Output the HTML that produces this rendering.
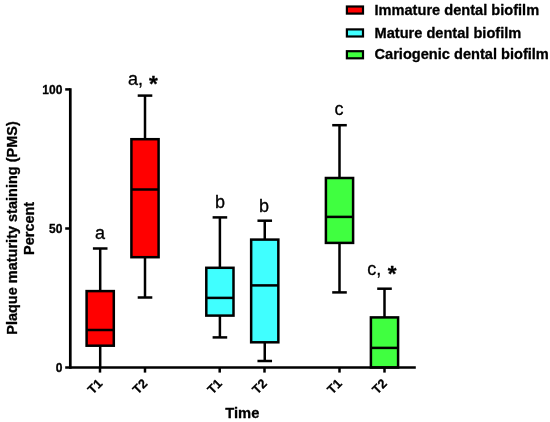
<!DOCTYPE html>
<html><head><meta charset="utf-8"><title>Plaque maturity staining</title>
<style>
html,body{margin:0;padding:0;background:#fff;}
svg{display:block;}
text{font-family:"Liberation Sans",Arial,sans-serif;fill:#000;stroke:#000;stroke-width:0.3px;stroke-linejoin:round;}
.b12{font-weight:bold;font-size:12px;}
.xt{font-weight:bold;font-size:12.6px;}
.b15{font-weight:bold;font-size:14.7px;}
.lg{font-weight:bold;font-size:14.6px;}
.yl{font-weight:bold;font-size:14.5px;}
.an{font-size:18px;}
.st{font-size:22.5px;font-weight:bold;}
.ln line,.ln rect{stroke:#000;stroke-width:2.5;}
</style></head><body>
<svg width="550" height="422" viewBox="0 0 550 422">
<rect width="550" height="422" fill="#fff"/>
<g class="ln" fill="none">
<line x1="100.2" y1="248.5" x2="100.2" y2="291.1"/>
<line x1="92.9" y1="248.5" x2="107.5" y2="248.5"/>
<line x1="100.2" y1="345.7" x2="100.2" y2="367.5"/>
<rect x="86.60000000000001" y="291.1" width="27.2" height="54.599999999999966" fill="#ff0000"/>
<line x1="86.60000000000001" y1="330" x2="113.8" y2="330"/>
<line x1="145" y1="95.6" x2="145" y2="139.2"/>
<line x1="137.7" y1="95.6" x2="152.3" y2="95.6"/>
<line x1="145" y1="257.2" x2="145" y2="297.5"/>
<line x1="137.7" y1="297.5" x2="152.3" y2="297.5"/>
<rect x="131.4" y="139.2" width="27.2" height="118.0" fill="#ff0000"/>
<line x1="131.4" y1="189.5" x2="158.6" y2="189.5"/>
<line x1="219.9" y1="217.4" x2="219.9" y2="267.8"/>
<line x1="212.6" y1="217.4" x2="227.20000000000002" y2="217.4"/>
<line x1="219.9" y1="315.6" x2="219.9" y2="337.4"/>
<line x1="212.6" y1="337.4" x2="227.20000000000002" y2="337.4"/>
<rect x="206.3" y="267.8" width="27.2" height="47.80000000000001" fill="#40ffff"/>
<line x1="206.3" y1="297.9" x2="233.5" y2="297.9"/>
<line x1="264.75" y1="220.7" x2="264.75" y2="239.6"/>
<line x1="257.45" y1="220.7" x2="272.05" y2="220.7"/>
<line x1="264.75" y1="342.3" x2="264.75" y2="361"/>
<line x1="257.45" y1="361" x2="272.05" y2="361"/>
<rect x="251.15" y="239.6" width="27.2" height="102.70000000000002" fill="#40ffff"/>
<line x1="251.15" y1="285.4" x2="278.35" y2="285.4"/>
<line x1="339.5" y1="125.2" x2="339.5" y2="178"/>
<line x1="332.2" y1="125.2" x2="346.8" y2="125.2"/>
<line x1="339.5" y1="242.9" x2="339.5" y2="292.4"/>
<line x1="332.2" y1="292.4" x2="346.8" y2="292.4"/>
<rect x="325.9" y="178" width="27.2" height="64.9" fill="#40ff40"/>
<line x1="325.9" y1="216.9" x2="353.1" y2="216.9"/>
<line x1="384.5" y1="288.7" x2="384.5" y2="317.4"/>
<line x1="377.2" y1="288.7" x2="391.8" y2="288.7"/>
<rect x="370.9" y="317.4" width="27.2" height="50.10000000000002" fill="#40ff40"/>
<line x1="370.9" y1="347.9" x2="398.1" y2="347.9"/>
<line x1="70.3" y1="88.2" x2="70.3" y2="368.8" style="stroke-width:2.7"/>
<line x1="65.2" y1="367.5" x2="415.8" y2="367.5" style="stroke-width:2.7"/>
<line x1="65.2" y1="89.4" x2="70.3" y2="89.4"/>
<line x1="65.2" y1="228.5" x2="70.3" y2="228.5"/>
<line x1="100" y1="367.5" x2="100" y2="372.6"/>
<line x1="145" y1="367.5" x2="145" y2="372.6"/>
<line x1="219.7" y1="367.5" x2="219.7" y2="372.6"/>
<line x1="264.5" y1="367.5" x2="264.5" y2="372.6"/>
<line x1="339.5" y1="367.5" x2="339.5" y2="372.6"/>
<line x1="384.5" y1="367.5" x2="384.5" y2="372.6"/>
</g>
<text class="b12" text-anchor="end" x="62.4" y="93.8">100</text>
<text class="b12" text-anchor="end" x="62.4" y="232.8">50</text>
<text class="b12" text-anchor="end" x="62.4" y="371.8">0</text>
<text class="xt" text-anchor="end" transform="translate(103.1,384.3) rotate(-45)">T1</text>
<text class="xt" text-anchor="end" transform="translate(148.1,384.3) rotate(-45)">T2</text>
<text class="xt" text-anchor="end" transform="translate(222.79999999999998,384.3) rotate(-45)">T1</text>
<text class="xt" text-anchor="end" transform="translate(267.6,384.3) rotate(-45)">T2</text>
<text class="xt" text-anchor="end" transform="translate(342.6,384.3) rotate(-45)">T1</text>
<text class="xt" text-anchor="end" transform="translate(387.6,384.3) rotate(-45)">T2</text>
<text class="an" text-anchor="middle" x="100.1" y="239.2">a</text>
<text class="an" x="128" y="84.6">a,</text>
<text class="st" x="148.9" y="91.2">*</text>
<text class="an" text-anchor="middle" x="220" y="208.3">b</text>
<text class="an" text-anchor="middle" x="263.9" y="211.5">b</text>
<text class="an" text-anchor="middle" x="339" y="114.6">c</text>
<text class="an" x="367.3" y="274.8">c,</text>
<text class="st" x="387.7" y="281.4">*</text>
<text class="b15" text-anchor="middle" x="242.3" y="418.3">Time</text>
<text class="yl" text-anchor="middle" transform="translate(17.3,228) rotate(-90)">Plaque maturity staining (PMS)</text>
<text class="yl" text-anchor="middle" transform="translate(33.8,228.4) rotate(-90)">Percent</text>
<g class="ln">
<rect x="346.9" y="6.5" width="16.1" height="7.1" fill="#ff0000" style="stroke-width:2.2"/>
<rect x="346.9" y="29.4" width="16.1" height="7.1" fill="#40ffff" style="stroke-width:2.2"/>
<rect x="346.9" y="51.2" width="16.1" height="7.1" fill="#40ff40" style="stroke-width:2.2"/>
</g>
<text class="lg" x="374.5" y="15.1">Immature dental biofilm</text>
<text class="lg" x="374.5" y="37.8">Mature dental biofilm</text>
<text class="lg" x="374.5" y="59.1">Cariogenic dental biofilm</text>
</svg>
</body></html>
